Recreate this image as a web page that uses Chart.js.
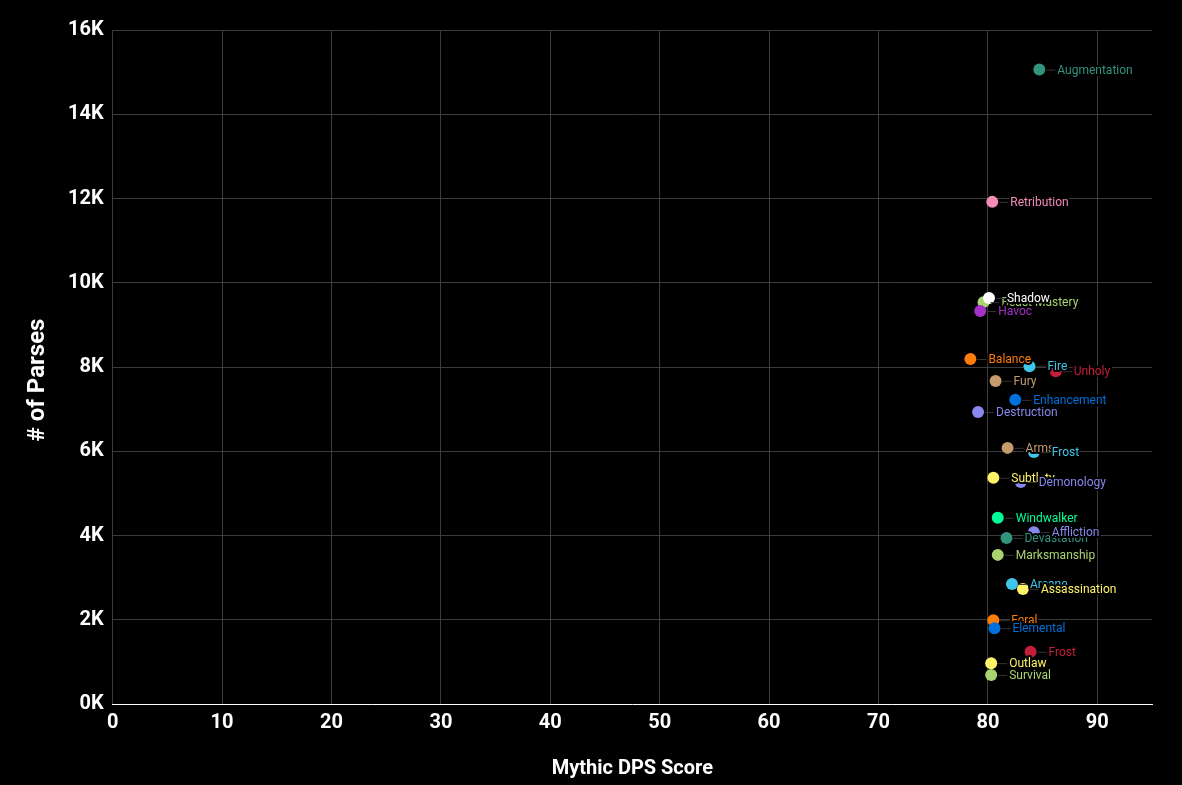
<!DOCTYPE html>
<html>
<head>
<meta charset="utf-8">
<script src="https://cdn.jsdelivr.net/npm/chart.js@4"></script>
<style>
html,body{margin:0;padding:0;background:#000;}
#wrap{width:1182px;height:785px;position:relative;}
</style>
</head>
<body>
<div id="wrap"><canvas id="c" width="1182" height="785"></canvas></div>
<script>
const specs = ["Augmentation","Retribution","Beast Mastery","Shadow","Havoc","Balance","Fire","Unholy","Fury","Enhancement","Destruction","Arms","Frost","Subtlety","Demonology","Windwalker","Devastation","Affliction","Marksmanship","Arcane","Assassination","Feral","Elemental","Frost","Outlaw","Survival"];
const dpsScore = [84.7,80.4,79.6,80.1,79.3,78.4,83.8,86.2,80.7,82.5,79.1,81.8,84.2,80.5,83.0,80.9,81.7,84.2,80.9,82.2,83.2,80.5,80.6,83.9,80.3,80.3];
const parses = [15060,11920,9540,9640,9330,8190,8020,7900,7670,7220,6930,6080,5980,5370,5270,4420,3940,4080,3540,2850,2730,1990,1800,1240,970,690];
const specColors = ["#33937F","#F48CBA","#AAD372","#FFFFFF","#A330C9","#FF7C0A","#3FC7EB","#C41E3A","#C69B6D","#0070DD","#8788EE","#C69B6D","#3FC7EB","#FFF468","#8788EE","#00FF98","#33937F","#8788EE","#AAD372","#3FC7EB","#FFF468","#FF7C0A","#0070DD","#C41E3A","#FFF468","#AAD372"];
const xTicks = [0,10,20,30,40,50,60,70,80,90];
const yTicks = [0,2000,4000,6000,8000,10000,12000,14000,16000];
const yTitle = '# of Parses';

const labelPlugin = {
  id: 'specLabels',
  afterDatasetsDraw(chart) {
    const ctx = chart.ctx;
    const meta = chart.getDatasetMeta(0);
    ctx.save();
    ctx.font = '12px Roboto';
    ctx.textBaseline = 'middle';
    ctx.textAlign = 'left';
    ctx.lineJoin = 'round';
    meta.data.forEach((pt, i) => {
      const x = pt.x, y = pt.y;
      ctx.strokeStyle = '#333';
      ctx.lineWidth = 1;
      ctx.beginPath();
      ctx.moveTo(x + 7, y + 0.5);
      ctx.lineTo(x + 16, y + 0.5);
      ctx.stroke();
      const t = specs[i];
      ctx.strokeStyle = '#000';
      ctx.lineWidth = 4;
      ctx.strokeText(t, x + 18, y + 1);
      ctx.fillStyle = specColors[i];
      ctx.fillText(t, x + 18, y + 1);
    });
    ctx.restore();
  },
  afterDraw(chart) {
    const ctx = chart.ctx;
    const ca = chart.chartArea;
    ctx.save();
    ctx.translate(38, (ca.top + ca.bottom) / 2 + 13);
    ctx.rotate(-Math.PI / 2);
    ctx.font = 'bold 24px Roboto';
    ctx.fillStyle = '#fff';
    ctx.textAlign = 'center';
    ctx.textBaseline = 'middle';
    ctx.fillText(yTitle, 0, 0);
    ctx.restore();
  }
};

new Chart(document.getElementById('c'), {
  type: 'scatter',
  data: {
    datasets: [{
      data: dpsScore.map((v, i) => ({x: v, y: parses[i]})),
      pointBackgroundColor: specColors,
      pointBorderWidth: 0,
      pointRadius: 6,
      pointHoverRadius: 6
    }]
  },
  options: {
    responsive: false,
    animation: false,
    layout: {padding: {top: 30, right: 30, left: 59, bottom: 4}},
    plugins: {legend: {display: false}, tooltip: {enabled: false}},
    scales: {
      x: {
        type: 'linear', min: 0, max: 95,
        afterBuildTicks(s) { s.ticks = xTicks.map(v => ({value: v})); },
        grid: {color: '#3c3c3c', drawTicks: false},
        border: {color: '#ffffff', width: 1},
        ticks: {color: '#fff', font: {family: 'Roboto', size: 20, weight: 'bold'}, padding: 7},
        title: {display: true, text: 'Mythic DPS Score', color: '#fff', font: {family: 'Roboto', size: 20, weight: 'bold'}, padding: {top: 15, bottom: 0}}
      },
      y: {
        type: 'linear', min: 0, max: 16000,
        afterBuildTicks(s) { s.ticks = yTicks.map(v => ({value: v})); },
        grid: {color: '#3c3c3c', drawTicks: false},
        border: {display: false},
        ticks: {color: '#fff', font: {family: 'Roboto', size: 20, weight: 'bold'}, padding: 9,
          callback: v => (v / 1000) + 'K'}
      }
    }
  },
  plugins: [labelPlugin]
});
</script>
</body>
</html>
